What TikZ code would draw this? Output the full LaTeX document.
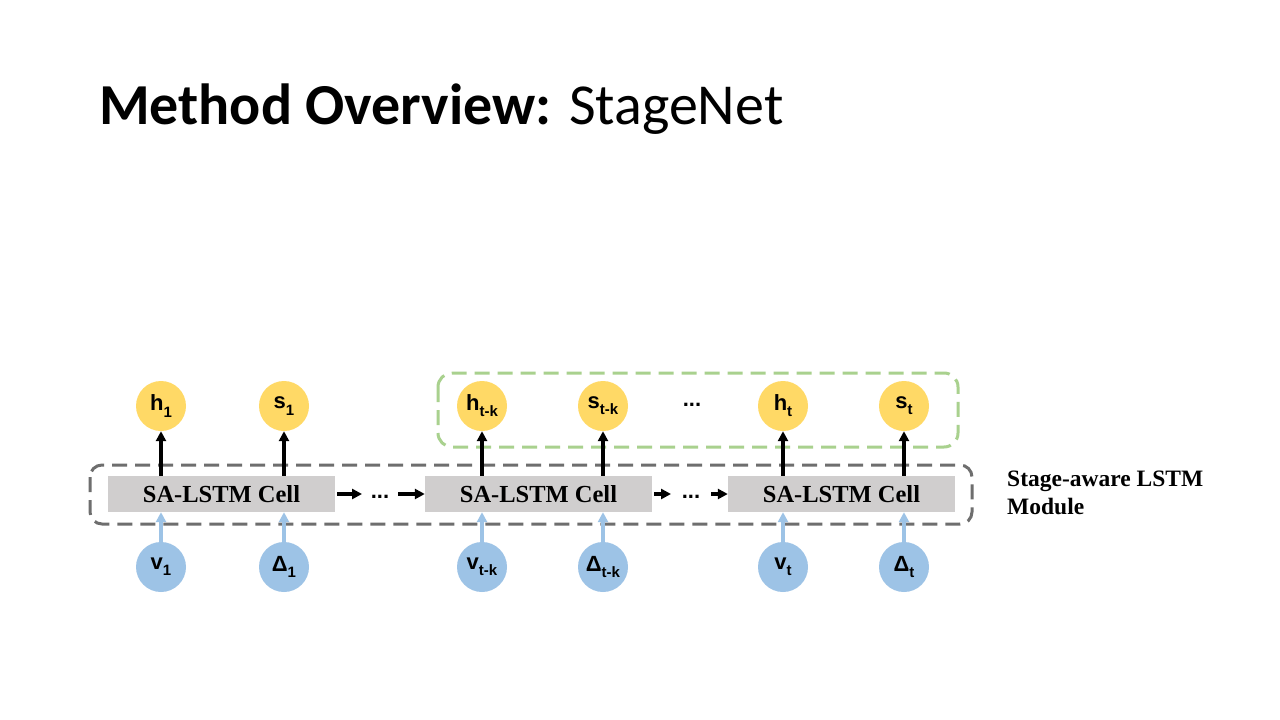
\documentclass[tikz,border=0pt]{standalone}
\usepackage{fontspec}
\setmainfont{Liberation Serif}
\newfontfamily\titlefont{Carlito}
\newfontfamily\lblfont{Liberation Sans}
\usetikzlibrary{arrows.meta}
\definecolor{cellgray}{HTML}{D0CECE}
\definecolor{ygold}{HTML}{FFD966}
\definecolor{lblue}{HTML}{9DC3E6}
\definecolor{dgray}{HTML}{6E6E6E}
\definecolor{lgreen}{HTML}{A9D18E}
\newcommand{\sbs}[1]{\raisebox{-0.28em}{\fontsize{15}{16}\selectfont #1}}
\tikzset{
  cellbox/.style={fill=cellgray, minimum width=227pt, minimum height=36pt, inner sep=0pt,
    font=\fontsize{24.5}{26}\selectfont\bfseries},
  outc/.style={circle, fill=ygold, minimum size=50pt, inner sep=0pt, font=\lblfont\bfseries\fontsize{22}{24}\selectfont},
  inc/.style={circle, fill=lblue, minimum size=50pt, inner sep=0pt, font=\lblfont\bfseries\fontsize{22}{24}\selectfont},
  uparr/.style={line width=3.2pt, -{Triangle[length=10pt,width=10pt]}},
  inarr/.style={lblue, line width=3.2pt, -{Triangle[length=10pt,width=10pt]}},
  harr/.style={line width=3.2pt, -{Triangle[length=10pt,width=10pt]}},
  dotsn/.style={inner sep=0pt, font=\lblfont\bfseries\fontsize{22}{24}\selectfont},
}
\begin{document}
\begin{tikzpicture}[x=1pt,y=-1pt]
\useasboundingbox (0,0) rectangle (1280,720);
\fill[white] (0,0) rectangle (1280,720);
% title
\node[anchor=base west, inner sep=0pt, font=\titlefont\fontsize{58}{60}\selectfont] (title) at (99,124) {\textbf{Method Overview:} StageNet};
% frames
\draw[dgray, line width=3pt, dash pattern=on 15pt off 8pt, rounded corners=12pt] (90,465) rectangle (972,524);
\draw[lgreen, line width=3pt, dash pattern=on 15pt off 8pt, rounded corners=14pt] (438,373) rectangle (958,447);
% cells
\node[cellbox] (c1) at (221.5,494) {SA-LSTM Cell};
\node[cellbox] (c2) at (538.5,494) {SA-LSTM Cell};
\node[cellbox] (c3) at (841.5,494) {SA-LSTM Cell};
% outputs
\node[outc] (h1) at (161,406) {h\sbs{1}};
\node[outc] (s1) at (284,406) {s\sbs{1}};
\node[outc] (hk) at (482,406) {h\sbs{t-k}};
\node[outc] (sk) at (603,406) {s\sbs{t-k}};
\node[outc] (ht) at (783,406) {h\sbs{t}};
\node[outc] (st) at (904,406) {s\sbs{t}};
\node[dotsn] (dtop) at (692,405) {...};
% inputs
\node[inc] (v1) at (161,567) {v\sbs{1}};
\node[inc] (d1) at (284,567) {Δ\sbs{1}};
\node[inc] (vk) at (482,567) {v\sbs{t-k}};
\node[inc] (dk) at (603,567) {Δ\sbs{t-k}};
\node[inc] (vt) at (783,567) {v\sbs{t}};
\node[inc] (dt) at (904,567) {Δ\sbs{t}};
% up arrows
\foreach \n/\c in {h1/c1,s1/c1,hk/c2,sk/c2,ht/c3,st/c3}{
  \draw[uparr] (\c.north -| \n) -- (\n.south);
}
\foreach \n/\c in {v1/c1,d1/c1,vk/c2,dk/c2,vt/c3,dt/c3}{
  \draw[inarr] (\n.north) -- (\c.south -| \n);
}
% horizontal
\node[dotsn] (dd1) at (380,497) {...};
\node[dotsn] (dd2) at (691,497) {...};
\coordinate (a1s) at (337,494); \coordinate (a1e) at (362,494);
\coordinate (a2s) at (398,494); \coordinate (a2e) at (425,494);
\coordinate (a3s) at (655,494); \coordinate (a3e) at (671,494);
\coordinate (a4s) at (711,494); \coordinate (a4e) at (728,494);
\draw[harr] (c1.east |- a1s) ++(2,0) -- (a1e);
\draw[harr] (a2s) -- (c2.west);
\draw[harr] (c2.east |- a3s) ++(2,0) -- (a3e);
\draw[harr] (a4s) -- (c3.west);
% label
\node[anchor=north west, align=left, inner sep=0pt, font=\fontsize{23.5}{28}\selectfont\bfseries] (lbl) at (1007,471) {Stage-aware LSTM\\Module};
\end{tikzpicture}
\end{document}
